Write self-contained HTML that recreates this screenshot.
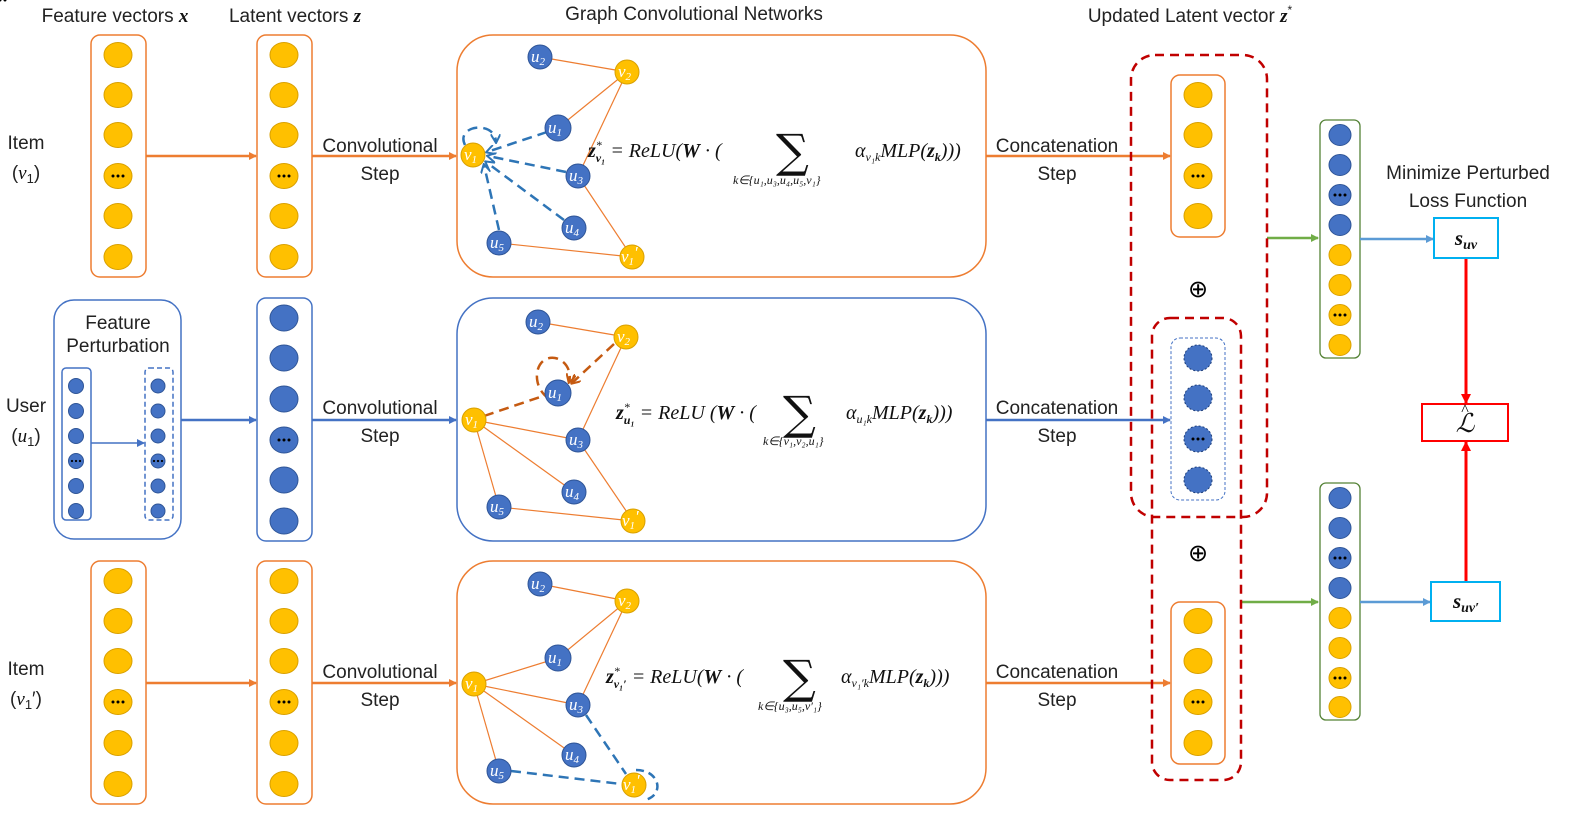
<!DOCTYPE html>
<html><head><meta charset="utf-8"><style>
html,body{margin:0;padding:0;background:#fff;}
svg{display:block;}
.l{font-family:"Liberation Sans",sans-serif;font-size:19px;fill:#222;}
.m{font-family:"Liberation Serif",serif;font-style:italic;fill:#111;}
.nl{font-family:"Liberation Serif",serif;font-style:italic;font-size:17px;fill:#fff;}
</style></head><body>
<svg width="1592" height="825" viewBox="0 0 1592 825" xmlns="http://www.w3.org/2000/svg">
<defs>
<marker id="ao" markerWidth="8" markerHeight="8" refX="7" refY="4" orient="auto" markerUnits="userSpaceOnUse"><path d="M0,0 L8,4 L0,8z" fill="#ed7d31"/></marker>
<marker id="ab" markerWidth="8" markerHeight="8" refX="7" refY="4" orient="auto" markerUnits="userSpaceOnUse"><path d="M0,0 L8,4 L0,8z" fill="#4472c4"/></marker>
<marker id="alb" markerWidth="8" markerHeight="8" refX="7" refY="4" orient="auto" markerUnits="userSpaceOnUse"><path d="M0,0 L8,4 L0,8z" fill="#5b9bd5"/></marker>
<marker id="ag" markerWidth="8" markerHeight="8" refX="7" refY="4" orient="auto" markerUnits="userSpaceOnUse"><path d="M0,0 L8,4 L0,8z" fill="#70ad47"/></marker>
<marker id="ar" markerWidth="10" markerHeight="10" refX="9" refY="5" orient="auto" markerUnits="userSpaceOnUse"><path d="M0,0 L10,5 L0,10z" fill="#f00"/></marker>
<marker id="ad" markerWidth="10" markerHeight="10" refX="8" refY="5" orient="auto" markerUnits="userSpaceOnUse"><path d="M0,0 L9,5 L0,10" fill="none" stroke="#2e75b6" stroke-width="2"/></marker>
<marker id="adb" markerWidth="10" markerHeight="10" refX="8" refY="5" orient="auto" markerUnits="userSpaceOnUse"><path d="M0,0 L9,5 L0,10" fill="none" stroke="#c55a11" stroke-width="2"/></marker>
</defs>

<text class="l" x="115" y="22" text-anchor="middle">Feature vectors <tspan class="m" font-weight="bold">x</tspan></text>
<text class="l" x="295" y="22" text-anchor="middle">Latent vectors <tspan class="m" font-weight="bold">z</tspan></text>
<text class="l" x="694" y="20" text-anchor="middle">Graph Convolutional Networks</text>
<text class="l" x="1190" y="22" text-anchor="middle">Updated Latent vector <tspan class="m" font-weight="bold">z</tspan><tspan font-size="12" dy="-8">*</tspan></text>

<text class="l" x="26" y="149" text-anchor="middle">Item</text>
<text class="l" x="26" y="179" text-anchor="middle">(<tspan class="m">v</tspan><tspan font-size="13" dy="4">1</tspan><tspan dy="-4">)</tspan></text>
<text class="l" x="26" y="412" text-anchor="middle">User</text>
<text class="l" x="26" y="442" text-anchor="middle">(<tspan class="m">u</tspan><tspan font-size="13" dy="4">1</tspan><tspan dy="-4">)</tspan></text>
<text class="l" x="26" y="675" text-anchor="middle">Item</text>
<text class="l" x="26" y="705" text-anchor="middle">(<tspan class="m">v</tspan><tspan font-size="13" dy="4">1</tspan><tspan dy="-4">′)</tspan></text>

<g fill="none" stroke="#ed7d31" stroke-width="1.5">
<rect x="91" y="35" width="55" height="242" rx="9"/>
<rect x="257" y="35" width="55" height="242" rx="9"/>
<rect x="91" y="561" width="55" height="243" rx="9"/>
<rect x="257" y="561" width="55" height="243" rx="9"/>
<rect x="457" y="35" width="529" height="242" rx="36"/>
<rect x="457" y="561" width="529" height="243" rx="36"/>
<rect x="1171" y="75" width="54" height="162" rx="9"/>
<rect x="1171" y="602" width="54" height="162" rx="9"/>
</g>
<g fill="#ffc000" stroke="#d9a000" stroke-width="1">
<ellipse cx="118" cy="55" rx="14" ry="12.5"/><ellipse cx="118" cy="95" rx="14" ry="12.5"/><ellipse cx="118" cy="135" rx="14" ry="12.5"/><ellipse cx="118" cy="176" rx="14" ry="12.5"/><ellipse cx="118" cy="216" rx="14" ry="12.5"/><ellipse cx="118" cy="257" rx="14" ry="12.5"/>
<ellipse cx="284" cy="55" rx="14" ry="12.5"/><ellipse cx="284" cy="95" rx="14" ry="12.5"/><ellipse cx="284" cy="135" rx="14" ry="12.5"/><ellipse cx="284" cy="176" rx="14" ry="12.5"/><ellipse cx="284" cy="216" rx="14" ry="12.5"/><ellipse cx="284" cy="257" rx="14" ry="12.5"/>
<ellipse cx="118" cy="581" rx="14" ry="12.5"/><ellipse cx="118" cy="621" rx="14" ry="12.5"/><ellipse cx="118" cy="661" rx="14" ry="12.5"/><ellipse cx="118" cy="702" rx="14" ry="12.5"/><ellipse cx="118" cy="743" rx="14" ry="12.5"/><ellipse cx="118" cy="784" rx="14" ry="12.5"/>
<ellipse cx="284" cy="581" rx="14" ry="12.5"/><ellipse cx="284" cy="621" rx="14" ry="12.5"/><ellipse cx="284" cy="661" rx="14" ry="12.5"/><ellipse cx="284" cy="702" rx="14" ry="12.5"/><ellipse cx="284" cy="743" rx="14" ry="12.5"/><ellipse cx="284" cy="784" rx="14" ry="12.5"/>
<ellipse cx="1198" cy="95" rx="14" ry="12.5"/><ellipse cx="1198" cy="135" rx="14" ry="12.5"/><ellipse cx="1198" cy="176" rx="14" ry="12.5"/><ellipse cx="1198" cy="216" rx="14" ry="12.5"/>
<ellipse cx="1198" cy="621" rx="14" ry="12.5"/><ellipse cx="1198" cy="661" rx="14" ry="12.5"/><ellipse cx="1198" cy="702" rx="14" ry="12.5"/><ellipse cx="1198" cy="743" rx="14" ry="12.5"/>
</g>

<g fill="none" stroke="#4472c4" stroke-width="1.5">
<rect x="54" y="300" width="127" height="239" rx="20"/>
<rect x="62" y="368" width="29" height="152" rx="4"/>
<rect x="145" y="368" width="28" height="152" rx="4" stroke-dasharray="5,3"/>
<rect x="257" y="298" width="55" height="243" rx="9"/>
<rect x="457" y="298" width="529" height="243" rx="36"/>
<rect x="1171" y="338" width="54" height="162" rx="9" stroke-width="1" stroke-dasharray="3,2"/>
</g>
<text class="l" x="118" y="329" text-anchor="middle" font-size="16">Feature</text>
<text class="l" x="118" y="352" text-anchor="middle" font-size="16">Perturbation</text>
<g fill="#4472c4" stroke="#2f5597" stroke-width="1">
<circle cx="76" cy="386" r="7.5"/><circle cx="76" cy="411" r="7.5"/><circle cx="76" cy="436" r="7.5"/><circle cx="76" cy="461" r="7.5"/><circle cx="76" cy="486" r="7.5"/><circle cx="76" cy="511" r="7.5"/>
<circle cx="158" cy="386" r="7"/><circle cx="158" cy="411" r="7"/><circle cx="158" cy="436" r="7"/><circle cx="158" cy="461" r="7"/><circle cx="158" cy="486" r="7"/><circle cx="158" cy="511" r="7"/>
<ellipse cx="284" cy="318" rx="14" ry="13"/><ellipse cx="284" cy="358" rx="14" ry="13"/><ellipse cx="284" cy="399" rx="14" ry="13"/><ellipse cx="284" cy="440" rx="14" ry="13"/><ellipse cx="284" cy="480" rx="14" ry="13"/><ellipse cx="284" cy="521" rx="14" ry="13"/>
</g>
<g fill="#4472c4" stroke="#1f3f7a" stroke-width="1" stroke-dasharray="2,2">
<ellipse cx="1198" cy="358" rx="14" ry="13"/><ellipse cx="1198" cy="398" rx="14" ry="13"/><ellipse cx="1198" cy="439" rx="14" ry="13"/><ellipse cx="1198" cy="480" rx="14" ry="13"/>
</g>

<g fill="none" stroke="#548235" stroke-width="1.3">
<rect x="1320" y="120" width="40" height="238" rx="6"/>
<rect x="1320" y="483" width="40" height="237" rx="6"/>
</g>
<g stroke-width="1">
<g fill="#4472c4" stroke="#2f5597"><ellipse cx="1340" cy="135" rx="11" ry="10.5"/><ellipse cx="1340" cy="165" rx="11" ry="10.5"/><ellipse cx="1340" cy="195" rx="11" ry="10.5"/><ellipse cx="1340" cy="225" rx="11" ry="10.5"/>
<ellipse cx="1340" cy="498" rx="11" ry="10.5"/><ellipse cx="1340" cy="528" rx="11" ry="10.5"/><ellipse cx="1340" cy="558" rx="11" ry="10.5"/><ellipse cx="1340" cy="588" rx="11" ry="10.5"/></g>
<g fill="#ffc000" stroke="#d9a000"><ellipse cx="1340" cy="255" rx="11" ry="10.5"/><ellipse cx="1340" cy="285" rx="11" ry="10.5"/><ellipse cx="1340" cy="315" rx="11" ry="10.5"/><ellipse cx="1340" cy="345" rx="11" ry="10.5"/>
<ellipse cx="1340" cy="618" rx="11" ry="10.5"/><ellipse cx="1340" cy="648" rx="11" ry="10.5"/><ellipse cx="1340" cy="678" rx="11" ry="10.5"/><ellipse cx="1340" cy="707" rx="11" ry="10.5"/></g>
</g>

<g fill="#000">
<g id="d1"><circle cx="-5" cy="0" r="1.5"/><circle cx="0" cy="0" r="1.5"/><circle cx="5" cy="0" r="1.5"/></g>
</g>
<g fill="#000">
<use href="#d1" x="118" y="176"/><use href="#d1" x="284" y="176"/><use href="#d1" x="118" y="702"/><use href="#d1" x="284" y="702"/>
<use href="#d1" x="284" y="440"/><use href="#d1" x="1198" y="176"/><use href="#d1" x="1198" y="702"/><use href="#d1" x="1198" y="439"/>
<use href="#d1" x="1340" y="195"/><use href="#d1" x="1340" y="315"/><use href="#d1" x="1340" y="558"/><use href="#d1" x="1340" y="678"/>
</g>
<g fill="#000"><circle cx="72" cy="461" r="1.1"/><circle cx="76" cy="461" r="1.1"/><circle cx="80" cy="461" r="1.1"/>
<circle cx="154" cy="461" r="1.1"/><circle cx="158" cy="461" r="1.1"/><circle cx="162" cy="461" r="1.1"/></g>

<g stroke-width="2.5" fill="none">
<line x1="146" y1="156" x2="256" y2="156" stroke="#ed7d31" marker-end="url(#ao)"/>
<line x1="312" y1="156" x2="456" y2="156" stroke="#ed7d31" marker-end="url(#ao)"/>
<line x1="986" y1="156" x2="1170" y2="156" stroke="#ed7d31" marker-end="url(#ao)"/>
<line x1="146" y1="683" x2="256" y2="683" stroke="#ed7d31" marker-end="url(#ao)"/>
<line x1="312" y1="683" x2="456" y2="683" stroke="#ed7d31" marker-end="url(#ao)"/>
<line x1="986" y1="683" x2="1170" y2="683" stroke="#ed7d31" marker-end="url(#ao)"/>
<line x1="181" y1="420" x2="256" y2="420" stroke="#4472c4" marker-end="url(#ab)"/>
<line x1="312" y1="420" x2="456" y2="420" stroke="#4472c4" marker-end="url(#ab)"/>
<line x1="986" y1="420" x2="1170" y2="420" stroke="#4472c4" marker-end="url(#ab)"/>
<line x1="91" y1="443" x2="144" y2="443" stroke="#4472c4" stroke-width="1.5" marker-end="url(#ab)"/>
<line x1="1267" y1="238" x2="1318" y2="238" stroke="#70ad47" marker-end="url(#ag)"/>
<line x1="1241" y1="602" x2="1318" y2="602" stroke="#70ad47" marker-end="url(#ag)"/>
<line x1="1360" y1="239" x2="1433" y2="239" stroke="#5b9bd5" marker-end="url(#alb)"/>
<line x1="1360" y1="602" x2="1430" y2="602" stroke="#5b9bd5" marker-end="url(#alb)"/>
<line x1="1466" y1="258" x2="1466" y2="403" stroke="#f00" stroke-width="3" marker-end="url(#ar)"/>
<line x1="1466" y1="582" x2="1466" y2="442" stroke="#f00" stroke-width="3" marker-end="url(#ar)"/>
</g>
<g class="l">
<text x="380" y="152" text-anchor="middle">Convolutional</text><text x="380" y="180" text-anchor="middle">Step</text>
<text x="380" y="414" text-anchor="middle">Convolutional</text><text x="380" y="442" text-anchor="middle">Step</text>
<text x="380" y="678" text-anchor="middle">Convolutional</text><text x="380" y="706" text-anchor="middle">Step</text>
<text x="1057" y="152" text-anchor="middle">Concatenation</text><text x="1057" y="180" text-anchor="middle">Step</text>
<text x="1057" y="414" text-anchor="middle">Concatenation</text><text x="1057" y="442" text-anchor="middle">Step</text>
<text x="1057" y="678" text-anchor="middle">Concatenation</text><text x="1057" y="706" text-anchor="middle">Step</text>
<text x="1468" y="179" text-anchor="middle">Minimize Perturbed</text><text x="1468" y="207" text-anchor="middle">Loss Function</text>
</g>

<g fill="none" stroke="#c00000" stroke-width="2.5" stroke-dasharray="9,6">
<rect x="1131" y="55" width="136" height="462" rx="24"/>
<rect x="1152" y="318" width="89" height="462" rx="18"/>
</g>
<text x="1198" y="297" text-anchor="middle" font-family="DejaVu Sans,sans-serif" font-size="24" fill="#000">⊕</text>
<text x="1198" y="561" text-anchor="middle" font-family="DejaVu Sans,sans-serif" font-size="24" fill="#000">⊕</text>

<rect x="1434" y="218" width="64" height="40" fill="#fff" stroke="#00b0f0" stroke-width="2"/>
<text class="m" x="1466" y="245" text-anchor="middle" font-size="21" font-weight="bold">s<tspan font-size="14" dy="4">uv</tspan></text>
<rect x="1431" y="582" width="69" height="39" fill="#fff" stroke="#00b0f0" stroke-width="2"/>
<text class="m" x="1466" y="608" text-anchor="middle" font-size="21" font-weight="bold">s<tspan font-size="14" dy="4">uv′</tspan></text>
<rect x="1422" y="404" width="86" height="37" fill="#fff" stroke="#f00" stroke-width="2"/>
<text class="m" x="1465" y="432" text-anchor="middle" font-size="26">ℒ</text>
<text x="1465" y="415" text-anchor="middle" font-family="Liberation Serif,serif" font-size="16">^</text>

<g stroke="#ed7d31" stroke-width="1.2">
<line x1="540" y1="57" x2="627" y2="72"/><line x1="627" y1="72" x2="558" y2="128"/><line x1="627" y1="72" x2="578" y2="176"/>
<line x1="578" y1="176" x2="632" y2="257"/><line x1="499" y1="243" x2="632" y2="257"/>
</g>
<g stroke="#2e75b6" stroke-width="2.5" stroke-dasharray="10,6" fill="none">
<line x1="547" y1="132" x2="487" y2="152" marker-end="url(#ad)"/>
<line x1="566" y1="172" x2="488" y2="156" marker-end="url(#ad)"/>
<line x1="564" y1="220" x2="486" y2="162" marker-end="url(#ad)"/>
<line x1="499" y1="230" x2="484" y2="165" marker-end="url(#ad)"/>
<path d="M465,145 C455,125 495,120 496,142" marker-end="url(#ad)"/>
</g>
<g stroke="#ed7d31" stroke-width="1.2">
<line x1="538" y1="322" x2="626" y2="337"/><line x1="626" y1="337" x2="578" y2="440"/>
<line x1="474" y1="420" x2="578" y2="440"/><line x1="474" y1="420" x2="574" y2="492"/><line x1="474" y1="420" x2="499" y2="507"/>
<line x1="578" y1="440" x2="633" y2="521"/><line x1="499" y1="507" x2="633" y2="521"/>
</g>
<g stroke="#c55a11" stroke-width="2.5" stroke-dasharray="10,6" fill="none">
<line x1="614" y1="344" x2="572" y2="383" marker-end="url(#adb)"/>
<line x1="484" y1="416" x2="546" y2="395"/>
<path d="M548,398 C530,385 535,355 555,358 C566,360 572,372 569,382" marker-end="url(#adb)"/>
</g>
<g stroke="#ed7d31" stroke-width="1.2">
<line x1="540" y1="584" x2="627" y2="601"/><line x1="627" y1="601" x2="558" y2="658"/><line x1="627" y1="601" x2="578" y2="705"/>
<line x1="474" y1="684" x2="558" y2="658"/><line x1="474" y1="684" x2="578" y2="705"/><line x1="474" y1="684" x2="574" y2="755"/><line x1="474" y1="684" x2="499" y2="771"/>
</g>
<g stroke="#2e75b6" stroke-width="2.5" stroke-dasharray="10,6" fill="none">
<line x1="586" y1="715" x2="626" y2="774"/>
<line x1="511" y1="771" x2="621" y2="784"/>
</g>

<g fill="#4472c4" stroke="#2f5597" stroke-width="1">
<circle cx="540" cy="57" r="12"/><circle cx="558" cy="128" r="13"/><circle cx="578" cy="176" r="12"/><circle cx="574" cy="228" r="12"/><circle cx="499" cy="243" r="12"/>
<circle cx="538" cy="322" r="12"/><circle cx="558" cy="393" r="13"/><circle cx="578" cy="440" r="12"/><circle cx="574" cy="492" r="12"/><circle cx="499" cy="507" r="12"/>
<circle cx="540" cy="584" r="12"/><circle cx="558" cy="658" r="13"/><circle cx="578" cy="705" r="12"/><circle cx="574" cy="755" r="12"/><circle cx="499" cy="771" r="12"/>
</g>
<g fill="#ffc000" stroke="#d9a000" stroke-width="1">
<circle cx="627" cy="72" r="12"/><circle cx="473" cy="155" r="12"/><circle cx="632" cy="257" r="12"/>
<circle cx="626" cy="337" r="12"/><circle cx="474" cy="420" r="12"/><circle cx="633" cy="521" r="12"/>
<circle cx="627" cy="601" r="12"/><circle cx="474" cy="684" r="12"/><circle cx="634" cy="785" r="12"/>
</g>
<g class="nl">
<text x="531" y="62">u<tspan font-size="11" dy="3">2</tspan></text><text x="548" y="133">u<tspan font-size="11" dy="3">1</tspan></text><text x="569" y="181">u<tspan font-size="11" dy="3">3</tspan></text><text x="565" y="233">u<tspan font-size="11" dy="3">4</tspan></text><text x="490" y="248">u<tspan font-size="11" dy="3">5</tspan></text>
<text x="618" y="77">v<tspan font-size="11" dy="3">2</tspan></text><text x="464" y="160">v<tspan font-size="11" dy="3">1</tspan></text><text x="621" y="262">v<tspan font-size="11" dy="3">1</tspan><tspan dy="-7">′</tspan></text>
<text x="529" y="327">u<tspan font-size="11" dy="3">2</tspan></text><text x="548" y="398">u<tspan font-size="11" dy="3">1</tspan></text><text x="569" y="445">u<tspan font-size="11" dy="3">3</tspan></text><text x="565" y="497">u<tspan font-size="11" dy="3">4</tspan></text><text x="490" y="512">u<tspan font-size="11" dy="3">5</tspan></text>
<text x="617" y="342">v<tspan font-size="11" dy="3">2</tspan></text><text x="465" y="425">v<tspan font-size="11" dy="3">1</tspan></text><text x="622" y="526">v<tspan font-size="11" dy="3">1</tspan><tspan dy="-7">′</tspan></text>
<text x="531" y="589">u<tspan font-size="11" dy="3">2</tspan></text><text x="548" y="663">u<tspan font-size="11" dy="3">1</tspan></text><text x="569" y="710">u<tspan font-size="11" dy="3">3</tspan></text><text x="565" y="760">u<tspan font-size="11" dy="3">4</tspan></text><text x="490" y="776">u<tspan font-size="11" dy="3">5</tspan></text>
<text x="618" y="606">v<tspan font-size="11" dy="3">2</tspan></text><text x="465" y="689">v<tspan font-size="11" dy="3">1</tspan></text><text x="623" y="790">v<tspan font-size="11" dy="3">1</tspan><tspan dy="-7">′</tspan></text>
</g>
<path d="M636,770 C660,770 665,795 645,800" stroke="#2e75b6" stroke-width="2.5" stroke-dasharray="8,5" fill="none"/>

<g class="m" font-size="20">
<text x="588" y="157"><tspan font-weight="bold">z</tspan><tspan font-size="12" dy="-8">*</tspan><tspan font-size="12" dx="-6" dy="13" font-weight="bold">v₁</tspan><tspan dy="-5"> = ReLU(</tspan><tspan font-weight="bold">W</tspan><tspan> · (</tspan></text>
<text x="776" y="167" font-style="normal" font-size="46" font-family="DejaVu Serif,serif">∑</text>
<text x="855" y="157">α<tspan font-size="12" dy="4">v₁k</tspan><tspan dy="-4">MLP(</tspan><tspan font-weight="bold">z</tspan><tspan font-size="12" dy="4" font-weight="bold">k</tspan><tspan dy="-4">)))</tspan></text>
<text x="733" y="184" font-size="12">k∈{u₁,u₃,u₄,u₅,v₁}</text>

<text x="616" y="419"><tspan font-weight="bold">z</tspan><tspan font-size="12" dy="-8">*</tspan><tspan font-size="12" dx="-6" dy="13" font-weight="bold">u₁</tspan><tspan dy="-5"> = ReLU (</tspan><tspan font-weight="bold">W</tspan><tspan> · (</tspan></text>
<text x="783" y="429" font-style="normal" font-size="46" font-family="DejaVu Serif,serif">∑</text>
<text x="846" y="419">α<tspan font-size="12" dy="4">u₁k</tspan><tspan dy="-4">MLP(</tspan><tspan font-weight="bold">z</tspan><tspan font-size="12" dy="4" font-weight="bold">k</tspan><tspan dy="-4">)))</tspan></text>
<text x="763" y="445" font-size="12">k∈{v₁,v₂,u₁}</text>

<text x="606" y="683"><tspan font-weight="bold">z</tspan><tspan font-size="12" dy="-8">*</tspan><tspan font-size="12" dx="-6" dy="13" font-weight="bold">v₁′</tspan><tspan dy="-5"> = ReLU(</tspan><tspan font-weight="bold">W</tspan><tspan> · (</tspan></text>
<text x="783" y="693" font-style="normal" font-size="46" font-family="DejaVu Serif,serif">∑</text>
<text x="841" y="683">α<tspan font-size="12" dy="4">v₁′k</tspan><tspan dy="-4">MLP(</tspan><tspan font-weight="bold">z</tspan><tspan font-size="12" dy="4" font-weight="bold">k</tspan><tspan dy="-4">)))</tspan></text>
<text x="758" y="710" font-size="12">k∈{u₃,u₅,v′₁}</text>
</g>
</svg>
</body></html>
